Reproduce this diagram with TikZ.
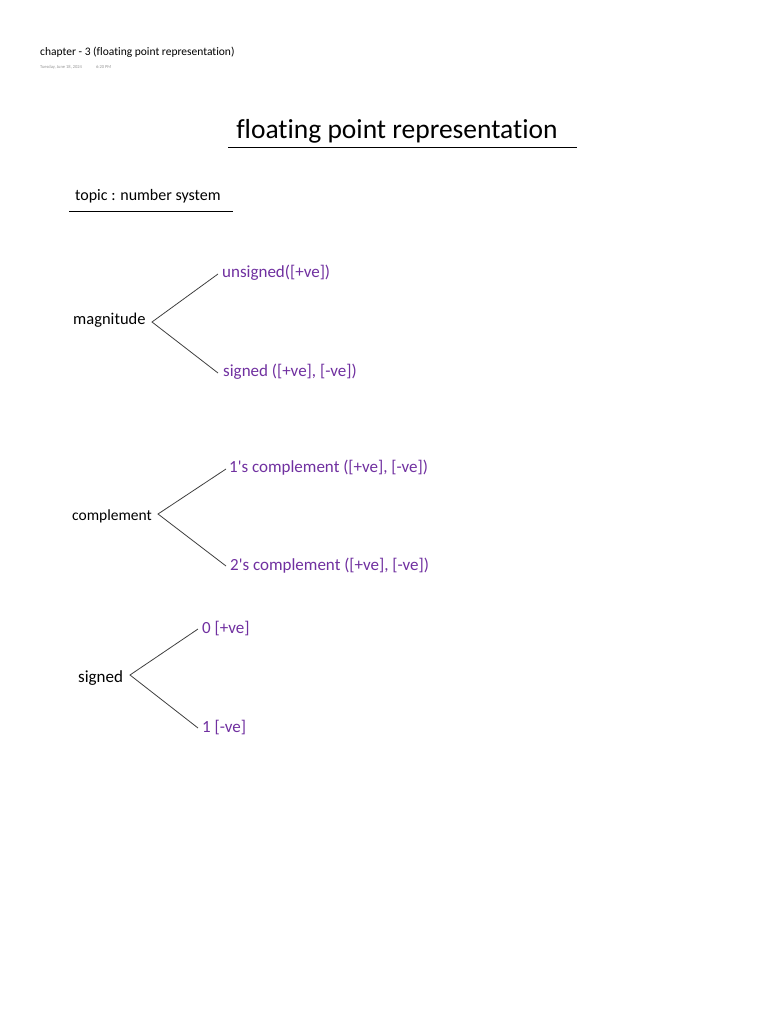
\documentclass[tikz,border=0pt]{standalone}
\usepackage{fontspec}
\setmainfont{Carlito}[Ligatures=NoCommon]
\usetikzlibrary{calc}
\definecolor{inkpurple}{RGB}{112,48,160}
\definecolor{datagray}{RGB}{150,150,150}

\begin{document}
\begin{tikzpicture}[x=1pt, y=-1pt,
    word/.style={anchor=west, inner sep=0pt, font=\fontsize{17}{20}\selectfont},
    branch/.style={word, text=inkpurple},
    twig/.style={draw=black!75, line width=0.8pt}]
    % 1. Page
    \useasboundingbox[fill=white] (0,0) rectangle (768,1024);

    % 2. Header
    \node[anchor=west, inner sep=0pt, font=\fontsize{11.5}{13}\selectfont] (chap) at (40,52) {chapter - 3 (floating point representation)};
    \node[anchor=west, inner sep=0pt, text=datagray, font=\fontsize{4.5}{5}\selectfont] (date) at (40,67) {Tuesday, June 18, 2024 \hspace{12pt} 6:20 PM};

    % 3. Title and topic
    \node[inner sep=0pt, font=\fontsize{27.5}{32}\selectfont] (title) at (397,131) {floating point representation};
    \draw[line width=0.8pt] (228,147) coordinate (tl) -- (577,147) coordinate (tr);
    \node[anchor=west, inner sep=0pt, font=\fontsize{16}{19}\selectfont] (topic) at (75,196) {topic : number system};
    \draw[line width=0.8pt] (69,211) coordinate (ul) -- (233,211) coordinate (ur);

    % 4. magnitude
    \node[word, font=\fontsize{16.5}{20}\selectfont] (mag) at (73,320) {magnitude};
    \coordinate (magapex) at (152,322);
    \node[branch] (unsig) at (222,273) {unsigned([+ve])};
    \node[branch] (sig) at (223,372) {signed ([+ve], [-ve])};
    \draw[twig] ($(unsig.west)+(-4,1)$) -- (magapex) -- ($(sig.west)+(-5,1)$);

    % 5. complement
    \node[word, font=\fontsize{15.5}{19}\selectfont] (comp) at (72,516) {complement};
    \coordinate (compapex) at (158,514);
    \node[branch] (ones) at (229,468) {1\textquotesingle s complement ([+ve], [-ve])};
    \node[branch] (twos) at (230,566) {2\textquotesingle s complement ([+ve], [-ve])};
    \draw[twig] ($(ones.west)+(-3,1)$) -- (compapex) -- ($(twos.west)+(-4,0)$);

    % 6. signed
    \node[word] (sgn) at (78,678) {signed};
    \coordinate (sgnapex) at (130,675);
    \node[branch] (zero) at (202,629) {0 [+ve]};
    \node[branch] (one) at (202,728) {1 [-ve]};
    \draw[twig] ($(zero.west)+(-4,0)$) -- (sgnapex) -- ($(one.west)+(-4,0)$);

\end{tikzpicture}
\end{document}
